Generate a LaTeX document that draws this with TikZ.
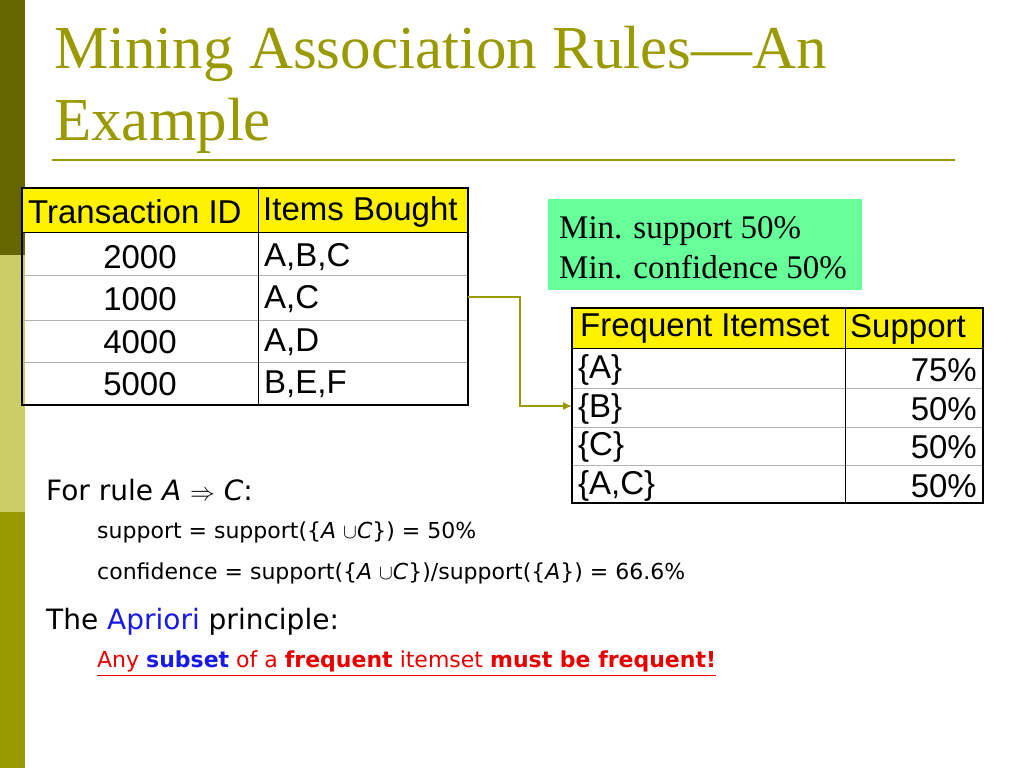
\documentclass[tikz,border=0pt]{standalone}
\usetikzlibrary{arrows.meta}
\usepackage{fontspec}
\setmainfont{Liberation Sans}
\newfontfamily\serifx{Liberation Serif}
\newfontfamily\verd{DejaVu Sans}
\usepackage{amssymb}
\definecolor{oliveA}{HTML}{666600}
\definecolor{oliveB}{HTML}{CCCC66}
\definecolor{oliveC}{HTML}{999900}
\definecolor{titlec}{HTML}{999900}
\definecolor{greenbox}{HTML}{66FF99}
\definecolor{bluex}{HTML}{1A1AE6}
\definecolor{redx}{HTML}{E60000}
\begin{document}
\begin{tikzpicture}[x=1pt,y=-1pt,
  cell/.style={anchor=west,font=\fontsize{33}{36}\selectfont,inner sep=0pt},
  body/.style={anchor=west,font=\verd\fontsize{28}{32}\selectfont,inner sep=0pt},
  sub/.style={anchor=west,font=\verd\fontsize{22}{26}\selectfont,inner sep=0pt},
  rowline/.style={draw=gray!60,line width=0.6pt}]
\useasboundingbox (0,0) rectangle (1024,768);
\fill[white] (0,0) rectangle (1024,768);
\fill[oliveA] (0,0) rectangle (25,255);
\fill[oliveB] (0,255) rectangle (25,512);
\fill[oliveC] (0,512) rectangle (25,768);
% title
\node[anchor=base west,inner sep=0pt,text=titlec,font=\serifx\fontsize{61}{70}\selectfont] (title) at (54,68) {Mining Association Rules—An};
\node[anchor=base west,inner sep=0pt,text=titlec,font=\serifx\fontsize{61}{70}\selectfont] (title2) at (54,140) {Example};
\draw[titlec,line width=1.5pt] (52,160) -- (955,160);
% table 1
\fill[yellow] (22,188) rectangle (468,232);
\foreach \y in {275,320,362} \draw[rowline] (22,\y) -- (468,\y);
\draw[line width=0.8pt] (22,232) -- (468,232);
\draw[line width=0.8pt] (258,188) -- (258,405);
\draw[line width=1.2pt] (22,188) rectangle (468,405);
\node[cell] (h1) at (28,212) {Transaction ID};
\node[cell] (h2) at (263,212) {Items Bought};
\node[cell,anchor=center] (t1) at (140,257) {2000}; \node[cell] at (264,257) {A,B,C};
\node[cell,anchor=center] (t2) at (140,299) {1000}; \node[cell] at (264,299) {A,C};
\node[cell,anchor=center] (t3) at (140,342) {4000}; \node[cell] at (264,342) {A,D};
\node[cell,anchor=center] (t4) at (140,384) {5000}; \node[cell] at (264,384) {B,E,F};
\coordinate (tab1) at (468,297);
% green box
\node[fill=greenbox,minimum width=314pt,minimum height=91pt,anchor=north west,inner sep=0pt] (gb) at (548,199) {};
\node[anchor=base west,inner sep=0pt,font=\serifx\fontsize{33}{40}\selectfont] (m1) at (559,238) {Min. support 50\%};
\node[anchor=base west,inner sep=0pt,font=\serifx\fontsize{33}{40}\selectfont] (m2) at (559,278) {Min. confidence 50\%};
% table 2
\fill[yellow] (572,308) rectangle (983,348);
\foreach \y in {388,427,465} \draw[rowline] (572,\y) -- (983,\y);
\draw[line width=0.8pt] (572,348) -- (983,348);
\draw[line width=0.8pt] (845,308) -- (845,503);
\draw[line width=1.2pt] (572,308) rectangle (983,503);
\node[cell] (f1) at (580,329) {Frequent Itemset};
\node[cell] (f2) at (850,329) {Support};
\node[cell] (r1) at (578,370) {\{A\}}; \node[cell,anchor=east] at (977,370) {75\%};
\node[cell] (r2) at (578,409) {\{B\}}; \node[cell,anchor=east] at (977,409) {50\%};
\node[cell] (r3) at (578,447) {\{C\}}; \node[cell,anchor=east] at (977,447) {50\%};
\node[cell] (r4) at (578,486) {\{A,C\}}; \node[cell,anchor=east] at (977,486) {50\%};
\coordinate (tab2) at (572,406);
\draw[oliveC,line width=1.2pt,-{Latex[length=9pt,width=8pt]}] (tab1) -- (520,297) -- (520,406) -- (tab2);
% text
\node[body] (rule) at (46,490) {For rule \textit{A} $\Rightarrow$ \textit{C}:};
\node[sub] (s1) at (97,532) {support = support(\{\textit{A} $\cup$\textit{C}\}) = 50\%};
\node[sub] (s2) at (97,573) {confidence = support(\{\textit{A} $\cup$\textit{C}\})/support(\{\textit{A}\}) = 66.6\%};
\node[body] (ap) at (46,622) {The \textcolor{bluex}{Apriori} principle:};
\node[sub,text=redx] (s3) at (97,664) {\underline{Any \textcolor{bluex}{\textbf{subset}} of a \textbf{frequent} itemset \textbf{must be frequent!}}};
\end{tikzpicture}
\end{document}
